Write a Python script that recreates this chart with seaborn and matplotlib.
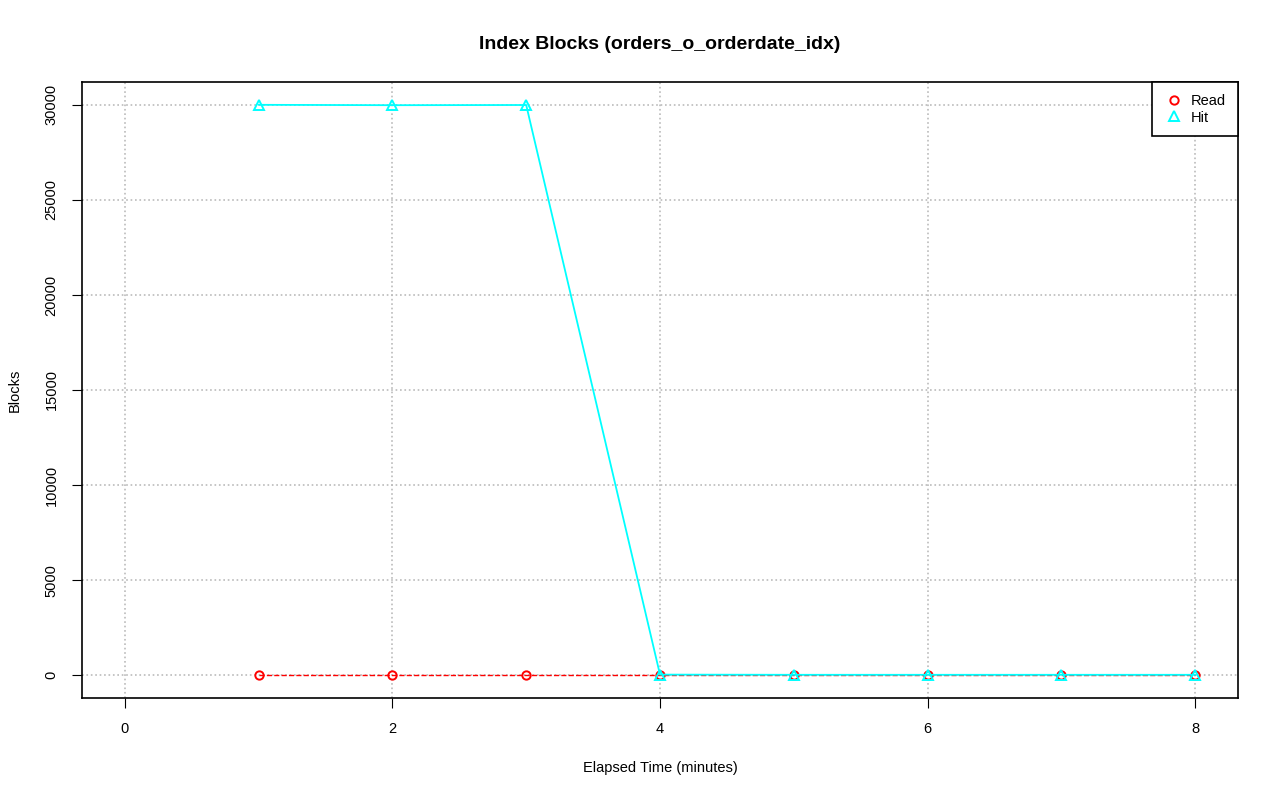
import matplotlib
matplotlib.use("Agg")
import matplotlib.pyplot as plt
import seaborn as sns
import pandas as pd

minutes = [1, 2, 3, 4, 5, 6, 7, 8]
read_blocks = [0, 0, 0, 0, 0, 0, 0, 0]
hit_blocks = [30000, 29980, 29990, 30, 20, 20, 20, 20]
xticks = [0, 2, 4, 6, 8]
yticks = [0, 5000, 10000, 15000, 20000, 25000, 30000]

sns.set_style("white")
plt.rcParams['font.family'] = ['Liberation Sans', 'DejaVu Sans']
plt.rcParams.update({"text.color": "black", "axes.labelcolor": "black",
                     "xtick.color": "black", "ytick.color": "black"})

fig = plt.figure(figsize=(12.8, 8.01), dpi=100)
ax = fig.add_axes([82/1280, 1-698/801, (1238-82)/1280, (698-82)/801])

df = pd.DataFrame({"m": minutes, "Read": read_blocks, "Hit": hit_blocks})
sns.lineplot(data=df, x="m", y="Read", ax=ax, color="red", linestyle="--", lw=1,
             marker="o", markersize=6, markerfacecolor="none", markeredgecolor="red",
             markeredgewidth=1.4, label="Read")
sns.lineplot(data=df, x="m", y="Hit", ax=ax, color="cyan", lw=1.3,
             marker="^", markersize=7, markerfacecolor="none", markeredgecolor="cyan",
             markeredgewidth=1.4, label="Hit")

ax.set_xlim(-0.32, 8.32)
ax.set_ylim(-1200, 31200)
ax.set_xticks(xticks)
ax.set_yticks(yticks)
ax.set_yticklabels([str(v) for v in yticks], rotation=90, va="center")
ax.tick_params(axis="both", labelsize=10.5, length=7, pad=10, direction="out",
               color="black", left=True, bottom=True)
ax.grid(True, color="#bbbbbb", linestyle=":", lw=1.2)
for s in ax.spines.values():
    s.set_color("black"); s.set_linewidth(1.2)
ax.set_xlabel("Elapsed Time (minutes)", fontsize=10.5, labelpad=18)
ax.set_ylabel("Blocks", fontsize=10.5, labelpad=16)
ax.set_title("Index Blocks (orders_o_orderdate_idx)", fontsize=14, fontweight="bold", pad=24)
leg = ax.legend(loc="upper right", borderaxespad=0, fancybox=False, framealpha=1,
                edgecolor="black", fontsize=10.5, handlelength=1.5, handletextpad=0.4,
                labelspacing=0.2, borderpad=0.8)
leg.get_frame().set_linewidth(1.2)
for h in leg.get_lines():
    h.set_linestyle("none")
fig.savefig("out.png", dpi=100)
